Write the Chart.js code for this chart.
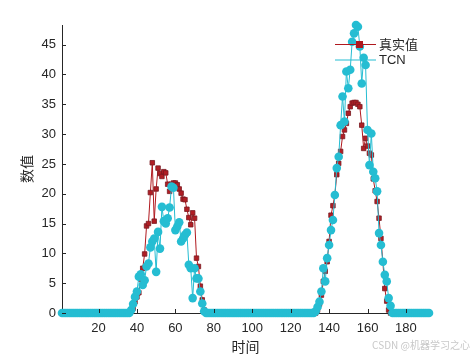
<!DOCTYPE html>
<html><head><meta charset="utf-8">
<script src="https://cdn.jsdelivr.net/npm/chart.js@4.4.1/dist/chart.umd.min.js"></script>
<style>html,body{margin:0;padding:0;background:#fff;}canvas{display:block;}</style>
</head><body>
<canvas id="c" width="474" height="355"></canvas>
<script>
// ---- data ----
const seriesNames = ['真实值', 'TCN'];
const actual = [
  0,0,0,0,0,0,0,0,0,0, 0,0,0,0,0,0,0,0,0,0, 0,0,0,0,0,0,0,0,0,0, 0,0,0,0,0,0,
  0.3,0.8,1.9,2.7,3.4,5.7,7.5,9.9,14.6,15.0,20.2,25.2,15.4,20.8,24.3,23.4,22.9,23.7,23.5,21.6,
  20.4,21.6,21.8,21.8,21.5,20.8,20.1,19.1,19.0,17.4,16.0,14.8,16.8,15.9,9.2,7.8,4.5,2.2,0.5,
  0,0,0,0,0,0,0,0,0,0, 0,0,0,0,0,0,0,0,0,0, 0,0,0,0,0,0,0,0,0,0, 0,0,0,0,0,0,0,0,0,0,
  0,0,0,0,0,0,0,0,0,0, 0,0,0,0,0,0,0,0,
  0.5,1.5,3.0,5.3,7.0,8.6,12.0,16.4,18.0,19.8,23.2,25.1,27.1,29.6,30.7,31.8,33.5,34.6,35.2,35.3,
  35.3,35.0,34.6,31.5,27.6,29.3,28.0,26.8,26.5,22.5,20.5,18.7,15.9,12.5,8.5,4.1,2.0,0.5,
  0,0,0,0,0,0,0,0,0,0, 0,0,0,0,0,0,0,0,0,0, 0
];
const tcn = [
  0,0,0,0,0,0,0,0,0,0, 0,0,0,0,0,0,0,0,0,0, 0,0,0,0,0,0,0,0,0,0, 0,0,0,0,0,0,
  0.5,1.5,2.7,3.6,6.1,6.5,4.7,5.5,7.8,8.3,11.0,12.0,12.5,6.9,13.6,10.8,17.8,15.4,15.0,15.9,
  17.7,21.2,21.0,13.9,14.5,15.2,12.0,12.5,13.1,13.5,8.1,7.5,2.5,7.5,5.8,5.8,3.6,1.6,0.3,
  0,0,0,0,0,0,0,0,0,0, 0,0,0,0,0,0,0,0,0,0, 0,0,0,0,0,0,0,0,0,0, 0,0,0,0,0,0,0,0,0,0,
  0,0,0,0,0,0,0,0,0,0, 0,0,0,0,0,0,0,
  0.3,1.0,1.9,3.6,7.5,5.3,9.2,11.4,13.9,15.6,19.8,24.3,26.2,31.5,36.3,32.1,40.5,37.7,40.8,45.5,
  46.9,48.3,48.0,44.7,38.5,42.8,41.6,30.7,24.8,30.1,23.7,22.6,20.4,13.4,11.4,8.6,6.4,5.3,2.5,1.2,
  0,0,0,0,0,0,0,0,0,0, 0,0,0,0,0,0,0,0,0,0
];
const timeIndex = actual.map((_, i) => i + 1);
const xTicks = [20, 40, 60, 80, 100, 120, 140, 160, 180];
const yTicks = [0, 5, 10, 15, 20, 25, 30, 35, 40, 45];
const xTitle = '时间';
const yTitle = '数值';
const watermark = 'CSDN @机器学习之心';

// ---- styles ----
const RED = '#B0181E';
const CYAN = '#25BDD2';
const AXIS = '#262626';
const tickFont = { family: '"Liberation Sans", Arial, sans-serif', size: 13 };
const cjkFont = { family: '"Noto Sans CJK SC", sans-serif', size: 14 };

const toPoints = (ys) => ys.map((y, i) => ({ x: timeIndex[i], y }));

const innerTicks = {
  id: 'innerTicks',
  afterDraw(chart) {
    const { ctx, chartArea: a, scales: { x, y } } = chart;
    ctx.save();
    ctx.strokeStyle = AXIS;
    ctx.lineWidth = 1;
    ctx.beginPath();
    xTicks.forEach(v => { const p = Math.round(x.getPixelForValue(v)) + 0.5; ctx.moveTo(p, a.bottom); ctx.lineTo(p, a.bottom - 4); });
    yTicks.forEach(v => { const p = Math.round(y.getPixelForValue(v)) + 0.5; ctx.moveTo(a.left, p); ctx.lineTo(a.left + 4, p); });
    ctx.stroke();
    ctx.restore();
  }
};

const customLegend = {
  id: 'customLegend',
  afterDraw(chart) {
    const { ctx, chartArea: a } = chart;
    const x0 = a.right - 94, x1 = a.right - 53, xm = (x0 + x1) / 2 + 4, tx = a.right - 50;
    const rows = [
      { y: a.top + 19.5, color: RED, name: seriesNames[0], shape: 'rect', font: '13px "Noto Sans CJK SC", sans-serif' },
      { y: a.top + 35, color: CYAN, name: seriesNames[1], shape: 'circle', font: '13px "Liberation Sans", Arial, sans-serif' }
    ];
    ctx.save();
    rows.forEach(r => {
      ctx.strokeStyle = r.color; ctx.lineWidth = 1;
      ctx.beginPath(); ctx.moveTo(x0, r.y); ctx.lineTo(x1, r.y); ctx.stroke();
      ctx.fillStyle = r.color;
      if (r.shape === 'rect') { ctx.fillRect(xm - 3.5, r.y - 3.5, 7, 7); }
      ctx.fillStyle = AXIS; ctx.font = r.font; ctx.textBaseline = 'middle'; ctx.textAlign = 'left';
      ctx.fillText(r.name, tx, r.y);
    });
    ctx.fillStyle = '#c8c8c8'; ctx.font = '10px "Noto Sans CJK SC", sans-serif'; ctx.textAlign = 'right';
    ctx.fillText(watermark, chart.width - 4, chart.height - 10);
    ctx.restore();
  }
};

new Chart(document.getElementById('c'), {
  type: 'line',
  data: {
    datasets: [
      { label: seriesNames[1], data: toPoints(tcn), order: 0, borderColor: CYAN, backgroundColor: CYAN,
        borderWidth: 1, pointStyle: 'circle', pointRadius: 4.3, pointBorderWidth: 0, pointBackgroundColor: CYAN,
        tension: 0, clip: false },
      { label: seriesNames[0], data: toPoints(actual), order: 1, borderColor: RED, backgroundColor: RED,
        borderWidth: 1, pointStyle: 'rect', pointRadius: 3.2, pointBorderWidth: 0.8, pointBorderColor: '#7a1a22',
        pointBackgroundColor: '#B01E24', tension: 0, clip: false }
    ]
  },
  options: {
    responsive: false, devicePixelRatio: 1, animation: false,
    layout: { padding: { top: 25, right: 45, left: 0, bottom: 0 } },
    plugins: { legend: { display: false }, tooltip: { enabled: false } },
    scales: {
      x: {
        type: 'linear', min: 1, max: 192,
        afterBuildTicks: s => { s.ticks = xTicks.map(v => ({ value: v })); },
        afterFit: s => { s.height = 42; },
        grid: { display: false, drawTicks: false },
        border: { display: true, color: AXIS, width: 1 },
        ticks: { color: AXIS, font: tickFont, padding: 8, maxRotation: 0 },
        title: { display: true, text: xTitle, color: AXIS, font: cjkFont, padding: { top: 0, bottom: 0 } }
      },
      y: {
        type: 'linear', min: 0, max: 48.3,
        afterBuildTicks: s => { s.ticks = yTicks.map(v => ({ value: v })); },
        afterFit: s => { s.width = 62; },
        grid: { display: false, drawTicks: false },
        border: { display: true, color: AXIS, width: 1 },
        ticks: { color: AXIS, font: tickFont, padding: 6 },
        title: { display: true, text: yTitle, color: AXIS, font: cjkFont, padding: { top: 18, bottom: 0 } }
      }
    }
  },
  plugins: [innerTicks, customLegend]
});
</script>
</body></html>
